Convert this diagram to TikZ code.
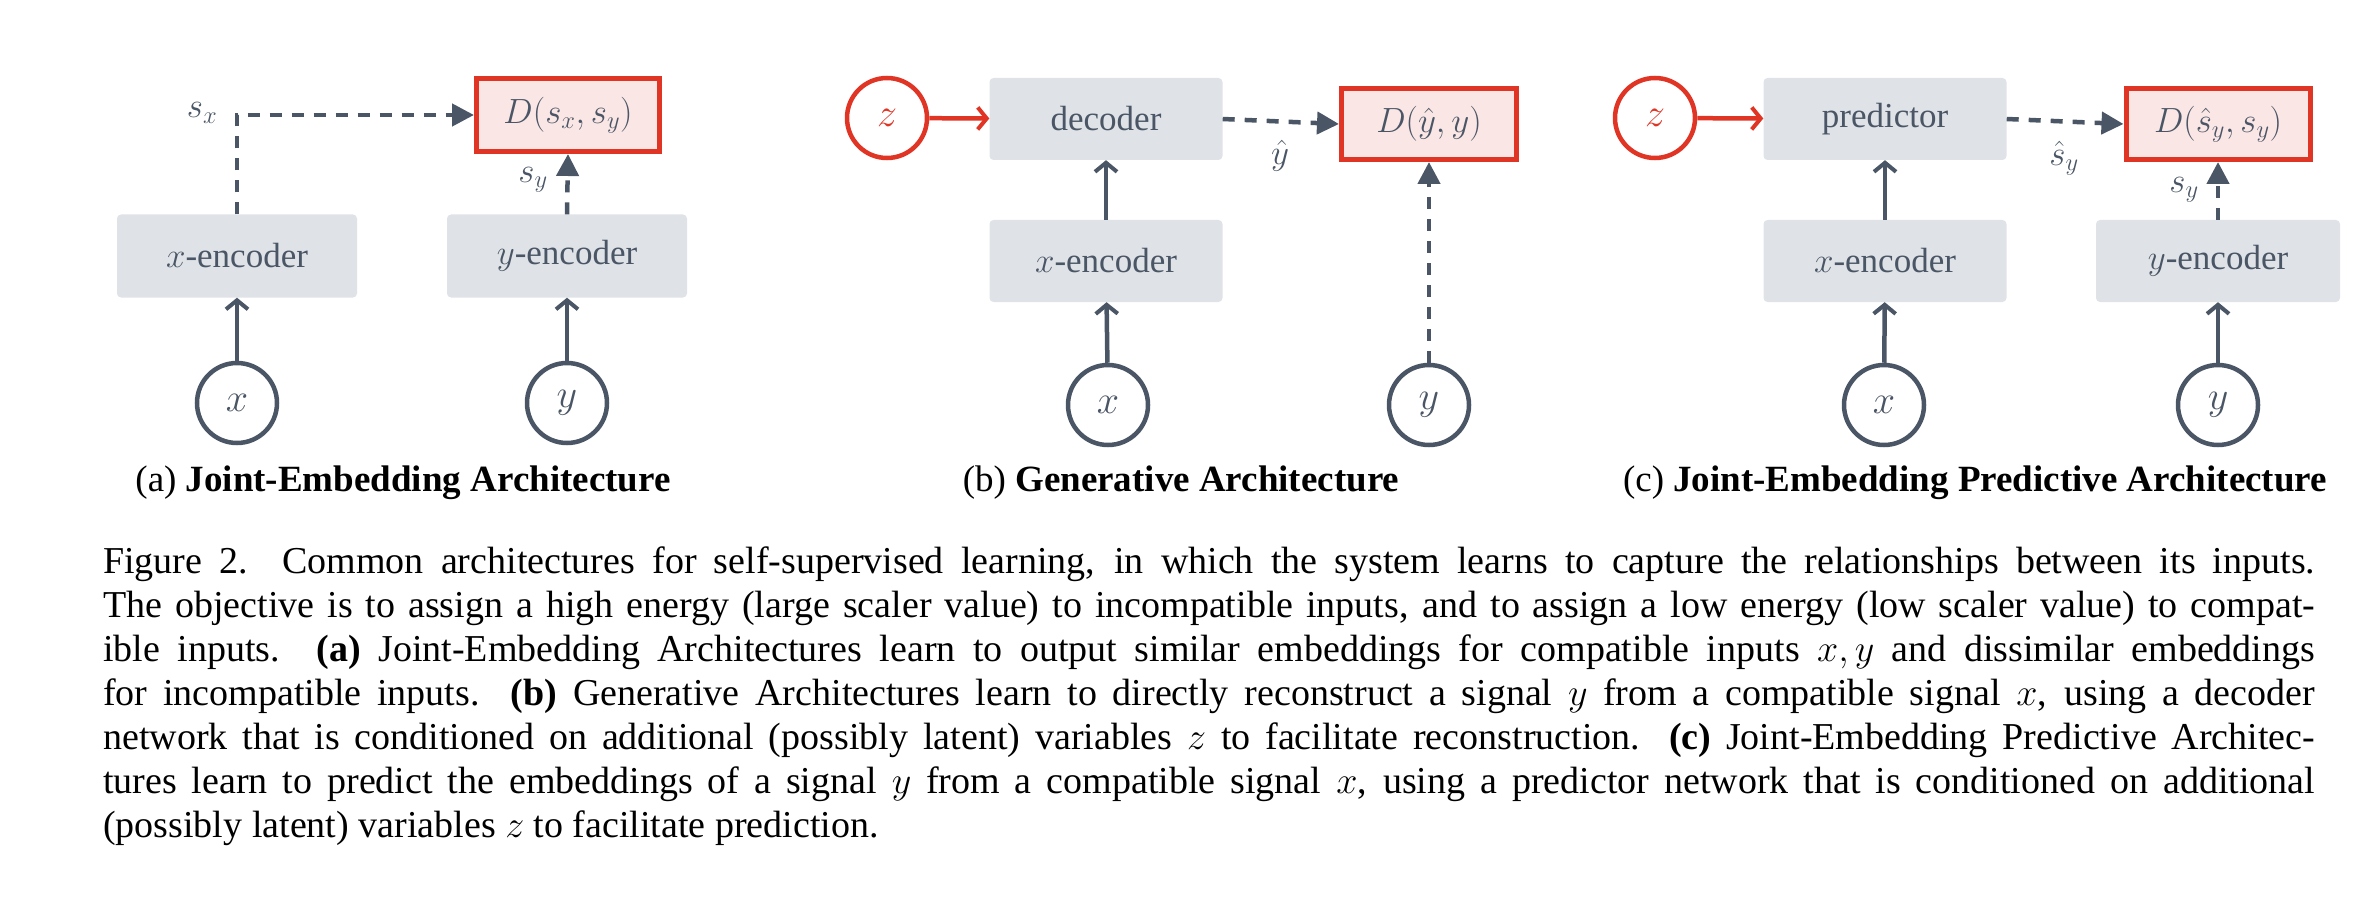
\documentclass[tikz,border=0pt]{standalone}
\usepackage{fix-cm}
\usepackage{fontspec}
\setmainfont{Liberation Serif}
\usetikzlibrary{arrows.meta}
\definecolor{slate}{HTML}{4A5665}
\definecolor{boxgray}{HTML}{DFE2E7}
\definecolor{jred}{HTML}{E03424}
\definecolor{pinkfill}{HTML}{FBE6E6}
\begin{document}
\begin{tikzpicture}[x=1pt,y=-1pt,
  box/.style={fill=boxgray,rounded corners=4pt,text=slate,font=\fontsize{35}{40}\selectfont,inner sep=0pt},
  dbox/.style={draw=jred,line width=5pt,fill=pinkfill,text=slate,font=\fontsize{35}{40}\selectfont,inner sep=0pt},
  var/.style={circle,draw=slate,line width=4.5pt,minimum size=80pt,text=slate,font=\fontsize{40}{44}\selectfont,inner sep=0pt},
  zvar/.style={var,draw=jred,text=jred},
  solid arrow/.style={draw=slate,line width=4.5pt,-{Straight Barb[length=9pt,width=22pt,line width=4pt]}},
  red arrow/.style={draw=jred,line width=4.5pt,-{Straight Barb[length=9pt,width=22pt,line width=4pt]}},
  dash arrow/.style={draw=slate,line width=4.5pt,dash pattern=on 12pt off 10pt,-{Triangle[length=22pt,width=22pt]}},
  lab/.style={text=slate,font=\fontsize{35}{40}\selectfont,inner sep=0pt},
  sub/.style={font=\fontsize{37}{40}\selectfont,inner sep=0pt}]
\useasboundingbox (0,0) rectangle (2370,920);
% ---------- (a)
\node[dbox,minimum width=183pt,minimum height=73pt] (aD) at (568,115) {$D(s_x,s_y)$};
\node[box,minimum width=240pt,minimum height=83pt] (axe) at (237,256) {$x$-encoder};
\node[box,minimum width=240pt,minimum height=83pt] (aye) at (567,256) {$y$-encoder};
\node[var] (ax) at (237,403) {$x$};
\node[var] (ay) at (567,403) {$y$};
\coordinate (acorner) at (237,115);
\draw[solid arrow] (ax) -- (axe);
\draw[solid arrow] (ay) -- (aye);
\draw[dash arrow] (axe.north) -- (acorner) -- (aD.west);
\draw[dash arrow] (aye.north) -- (aD.south);
\node[lab] (asx) at (202,113) {$s_x$};
\node[lab] (asy) at (533,180) {$s_y$};
\node[sub] (acap) at (403,483) {(a) \textbf{Joint-Embedding Architecture}};
% ---------- (b)
\node[zvar] (bz) at (887,118) {$z$};
\node[box,minimum width=233pt,minimum height=82pt] (bdec) at (1106,119) {decoder};
\node[dbox,minimum width=175pt,minimum height=71pt] (bD) at (1429,124) {$D(\hat y,y)$};
\node[box,minimum width=233pt,minimum height=82pt] (bxe) at (1106,261) {$x$-encoder};
\node[var] (bx) at (1108,405) {$x$};
\node[var] (by) at (1429,405) {$y$};
\draw[red arrow] (bz) -- (bdec);
\draw[solid arrow] (bxe) -- (bdec);
\draw[solid arrow] (bx) -- (bxe);
\draw[dash arrow] (bdec.east) -- (bD.west);
\draw[dash arrow] (by) -- (bD);
\node[lab] (byh) at (1280,156) {$\hat y$};
\node[sub] (bcap) at (1181,483) {(b) \textbf{Generative Architecture}};
% ---------- (c)
\node[zvar] (cz) at (1655,118) {$z$};
\node[box,minimum width=243pt,minimum height=82pt] (cpred) at (1885,119) {predictor};
\node[dbox,minimum width=184pt,minimum height=71pt] (cD) at (2218,124) {$D(\hat s_y,s_y)$};
\node[box,minimum width=243pt,minimum height=82pt] (cxe) at (1885,261) {$x$-encoder};
\node[box,minimum width=244pt,minimum height=82pt] (cye) at (2218,261) {$y$-encoder};
\node[var] (cx) at (1884,405) {$x$};
\node[var] (cy) at (2218,405) {$y$};
\draw[red arrow] (cz) -- (cpred);
\draw[solid arrow] (cxe) -- (cpred);
\draw[solid arrow] (cx) -- (cxe);
\draw[solid arrow] (cy) -- (cye);
\draw[dash arrow] (cpred.east) -- (cD.west);
\draw[dash arrow] (cye) -- (cD);
\node[lab] (csh) at (2064,158) {$\hat s_y$};
\node[lab] (csy) at (2184,190) {$s_y$};
\node[sub] (ccap) at (1975,483) {(c) \textbf{Joint-Embedding Predictive Architecture}};
% ---------- caption
\node[anchor=north west,text width=2212pt,align=justify,inner sep=0pt,font=\fontsize{38}{44}\selectfont] (cap) at (103,547) {%
Figure 2.\ \ Common architectures for self-supervised learning, in which the system learns to capture the relationships between its inputs.\linebreak
The objective is to assign a high energy (large scaler value) to incompatible inputs, and to assign a low energy (low scaler value) to compat-\linebreak
ible inputs. \textbf{(a)} Joint-Embedding Architectures learn to output similar embeddings for compatible inputs $x, y$ and dissimilar embeddings\linebreak
for incompatible inputs. \textbf{(b)} Generative Architectures learn to directly reconstruct a signal $y$ from a compatible signal $x$, using a decoder\linebreak
network that is conditioned on additional (possibly latent) variables $z$ to facilitate reconstruction. \textbf{(c)} Joint-Embedding Predictive Architec-\linebreak
tures learn to predict the embeddings of a signal $y$ from a compatible signal $x$, using a predictor network that is conditioned on additional\linebreak
(possibly latent) variables $z$ to facilitate prediction.};
\end{tikzpicture}
\end{document}
